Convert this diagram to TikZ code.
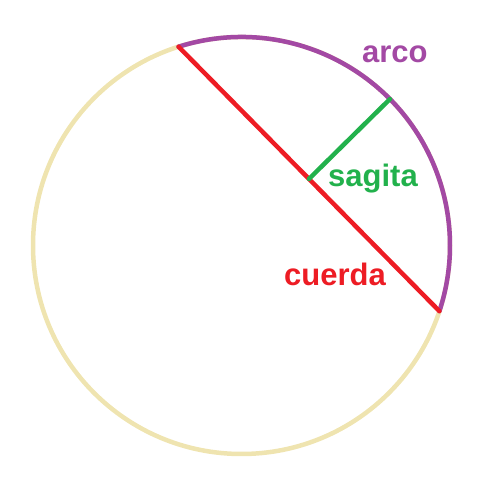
\documentclass[tikz,border=0pt]{standalone}
\usepackage{fontspec}
\setmainfont{Liberation Sans}
\usetikzlibrary{calc}
\definecolor{tan}{RGB}{239,228,176}
\definecolor{arcpurple}{RGB}{163,73,164}
\definecolor{chordred}{RGB}{237,28,36}
\definecolor{saggreen}{RGB}{34,177,76}
\begin{document}
\begin{tikzpicture}[x=1pt,y=1pt,
  stroke/.style={line width=4.5pt,line cap=round},
  lbl/.style={inner sep=0pt,anchor=base west,font=\bfseries\fontsize{31}{31}\selectfont}]
\useasboundingbox (0,0) rectangle (482,487);
\coordinate (O) at (241.5,241.5);
\coordinate (A) at ($(O)+(107.57:208.5)$);
\coordinate (B) at ($(O)+(-18.35:208.5)$);
\coordinate (M) at ($(A)!0.5!(B)$);
\coordinate (S) at ($(O)+(44.61:208.5)$);
\draw[stroke,tan] (O) circle[radius=208.5];
\draw[stroke,arcpurple] (A) arc[start angle=107.57,end angle=-18.35,radius=208.5];
\draw[stroke,chordred] (A) -- (B);
\draw[stroke,saggreen] (M) -- (S);
\node[lbl,text=arcpurple] (arco) at (362,424.3) {arco};
\node[lbl,text=saggreen] (sagita) at (328,300) {sagita};
\node[lbl,text=chordred] (cuerda) at (284,201.3) {cuerda};
\end{tikzpicture}
\end{document}
